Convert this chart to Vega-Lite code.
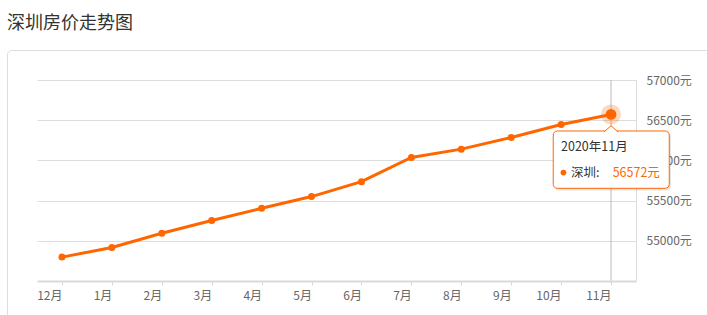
{
  "$schema": "https://vega.github.io/schema/vega-lite/v6.json",
  "width": 599,
  "height": 201,
  "autosize": {"type": "none"},
  "padding": {"left": 37, "top": 80, "right": 71, "bottom": 34},
  "background": "white",
  "title": {"text": "深圳房价走势图", "anchor": "start", "frame": "group", "dx": -30, "offset": 17, "fontSize": 18, "fontWeight": "normal", "color": "#333333", "font": "Noto Sans CJK SC"},
  "config": {"view": {"stroke": null}, "font": "Noto Sans CJK SC"},
  "data": {"values": [
    {"month": "12月", "date": "2019年12月", "city": "深圳", "value": 54797},
    {"month": "1月", "date": "2020年1月", "city": "深圳", "value": 54917},
    {"month": "2月", "date": "2020年2月", "city": "深圳", "value": 55094},
    {"month": "3月", "date": "2020年3月", "city": "深圳", "value": 55252},
    {"month": "4月", "date": "2020年4月", "city": "深圳", "value": 55404},
    {"month": "5月", "date": "2020年5月", "city": "深圳", "value": 55550},
    {"month": "6月", "date": "2020年6月", "city": "深圳", "value": 55736},
    {"month": "7月", "date": "2020年7月", "city": "深圳", "value": 56037},
    {"month": "8月", "date": "2020年8月", "city": "深圳", "value": 56140},
    {"month": "9月", "date": "2020年9月", "city": "深圳", "value": 56285},
    {"month": "10月", "date": "2020年10月", "city": "深圳", "value": 56447},
    {"month": "11月", "date": "2020年11月", "city": "深圳", "value": 56572}
  ]},
  "layer": [
    {
      "transform": [{"filter": "datum.month === '11月'"}],
      "mark": {"type": "rect", "fillOpacity": 0, "stroke": "#dddddd", "strokeWidth": 1, "cornerRadius": 4, "xOffset": -54.5, "x2Offset": 200, "yOffset": -29.5, "y2Offset": 80},
      "encoding": {
        "x": {"datum": "12月", "type": "ordinal"},
        "x2": {"datum": "11月"},
        "y": {"datum": 57000, "type": "quantitative"},
        "y2": {"datum": 54500}
      }
    },
    {
      "transform": [{"filter": "datum.month === '11月'"}],
      "mark": {"type": "rule", "color": "#bbbbbb", "strokeWidth": 1},
      "encoding": {
        "x": {"field": "month", "type": "ordinal"},
        "y": {"datum": 57000, "type": "quantitative"},
        "y2": {"datum": 54500}
      }
    },
    {
      "mark": {"type": "line", "color": "#ff6600", "strokeWidth": 3},
      "encoding": {
        "x": {
          "field": "month", "type": "ordinal",
          "scale": {"type": "point", "padding": 0.5, "domain": ["12月", "1月", "2月", "3月", "4月", "5月", "6月", "7月", "8月", "9月", "10月", "11月"]},
          "axis": {"title": null, "grid": false, "labelAngle": 0, "domainColor": "#d9d9d9", "domainWidth": 2, "tickColor": "#d9d9d9", "tickSize": 4, "labelColor": "#666666", "labelFontSize": 12, "labelPadding": 10}
        },
        "y": {
          "field": "value", "type": "quantitative",
          "scale": {"domain": [54500, 57000], "nice": false, "zero": false},
          "axis": {"orient": "right", "title": null, "values": [55000, 55500, 56000, 56500, 57000], "grid": true, "gridColor": "#dddddd", "domain": true, "domainColor": "#dddddd", "ticks": false, "labelPadding": 10, "labelExpr": "datum.value + '元'", "labelColor": "#666666", "labelFontSize": 12}
        }
      }
    },
    {
      "mark": {"type": "circle", "color": "#ff6600", "size": 49, "opacity": 1},
      "encoding": {"x": {"field": "month", "type": "ordinal"}, "y": {"field": "value", "type": "quantitative"}}
    },
    {
      "transform": [{"filter": "datum.month === '11月'"}],
      "mark": {"type": "circle", "color": "#ff6600", "size": 400, "opacity": 0.25},
      "encoding": {"x": {"field": "month", "type": "ordinal"}, "y": {"field": "value", "type": "quantitative"}}
    },
    {
      "transform": [{"filter": "datum.month === '11月'"}],
      "mark": {"type": "circle", "color": "#ff6600", "size": 115, "opacity": 1},
      "encoding": {"x": {"field": "month", "type": "ordinal"}, "y": {"field": "value", "type": "quantitative"}}
    },
    {
      "transform": [{"filter": "datum.month === '11月'"}],
      "mark": {"type": "rect", "fill": "#000000", "opacity": 0.1, "cornerRadius": 4, "xOffset": -56.5, "x2Offset": 60, "yOffset": 18, "y2Offset": 76},
      "encoding": {"x": {"field": "month", "type": "ordinal"}, "x2": {"field": "month"}, "y": {"field": "value", "type": "quantitative"}, "y2": {"field": "value"}}
    },
    {
      "transform": [{"filter": "datum.month === '11月'"}],
      "mark": {"type": "rect", "fill": "#ffffff", "stroke": "#ff6600", "strokeWidth": 1, "cornerRadius": 4, "xOffset": -57.8, "x2Offset": 58.2, "yOffset": 16.6, "y2Offset": 73.9},
      "encoding": {"x": {"field": "month", "type": "ordinal"}, "x2": {"field": "month"}, "y": {"field": "value", "type": "quantitative"}, "y2": {"field": "value"}}
    },
    {
      "transform": [{"filter": "datum.month === '11月'"}],
      "mark": {"type": "point", "shape": "M-1,0.55L0,-0.35L1,0.55", "filled": true, "fill": "#ffffff", "stroke": "#ff6600", "strokeWidth": 1, "size": 196, "opacity": 1, "yOffset": 13.75},
      "encoding": {"x": {"field": "month", "type": "ordinal"}, "y": {"field": "value", "type": "quantitative"}}
    },
    {
      "transform": [{"filter": "datum.month === '11月'"}],
      "mark": {"type": "text", "align": "left", "baseline": "middle", "dx": -50, "dy": 33, "fontSize": 12.5, "color": "#333333"},
      "encoding": {"x": {"field": "month", "type": "ordinal"}, "y": {"field": "value", "type": "quantitative"}, "text": {"field": "date"}}
    },
    {
      "transform": [{"filter": "datum.month === '11月'"}],
      "mark": {"type": "circle", "color": "#ff6600", "size": 32, "opacity": 1, "xOffset": -47.6, "yOffset": 58.2},
      "encoding": {"x": {"field": "month", "type": "ordinal"}, "y": {"field": "value", "type": "quantitative"}}
    },
    {
      "transform": [{"filter": "datum.month === '11月'"}, {"calculate": "datum.city + ':'", "as": "cityLabel"}],
      "mark": {"type": "text", "align": "left", "baseline": "middle", "dx": -40, "dy": 58.3, "fontSize": 12.5, "color": "#333333"},
      "encoding": {"x": {"field": "month", "type": "ordinal"}, "y": {"field": "value", "type": "quantitative"}, "text": {"field": "cityLabel"}}
    },
    {
      "transform": [{"filter": "datum.month === '11月'"}, {"calculate": "datum.value + '元'", "as": "valueLabel"}],
      "mark": {"type": "text", "align": "left", "baseline": "middle", "dx": 1.6, "dy": 58.3, "fontSize": 12.5, "color": "#ff6600"},
      "encoding": {"x": {"field": "month", "type": "ordinal"}, "y": {"field": "value", "type": "quantitative"}, "text": {"field": "valueLabel"}}
    }
  ]
}
